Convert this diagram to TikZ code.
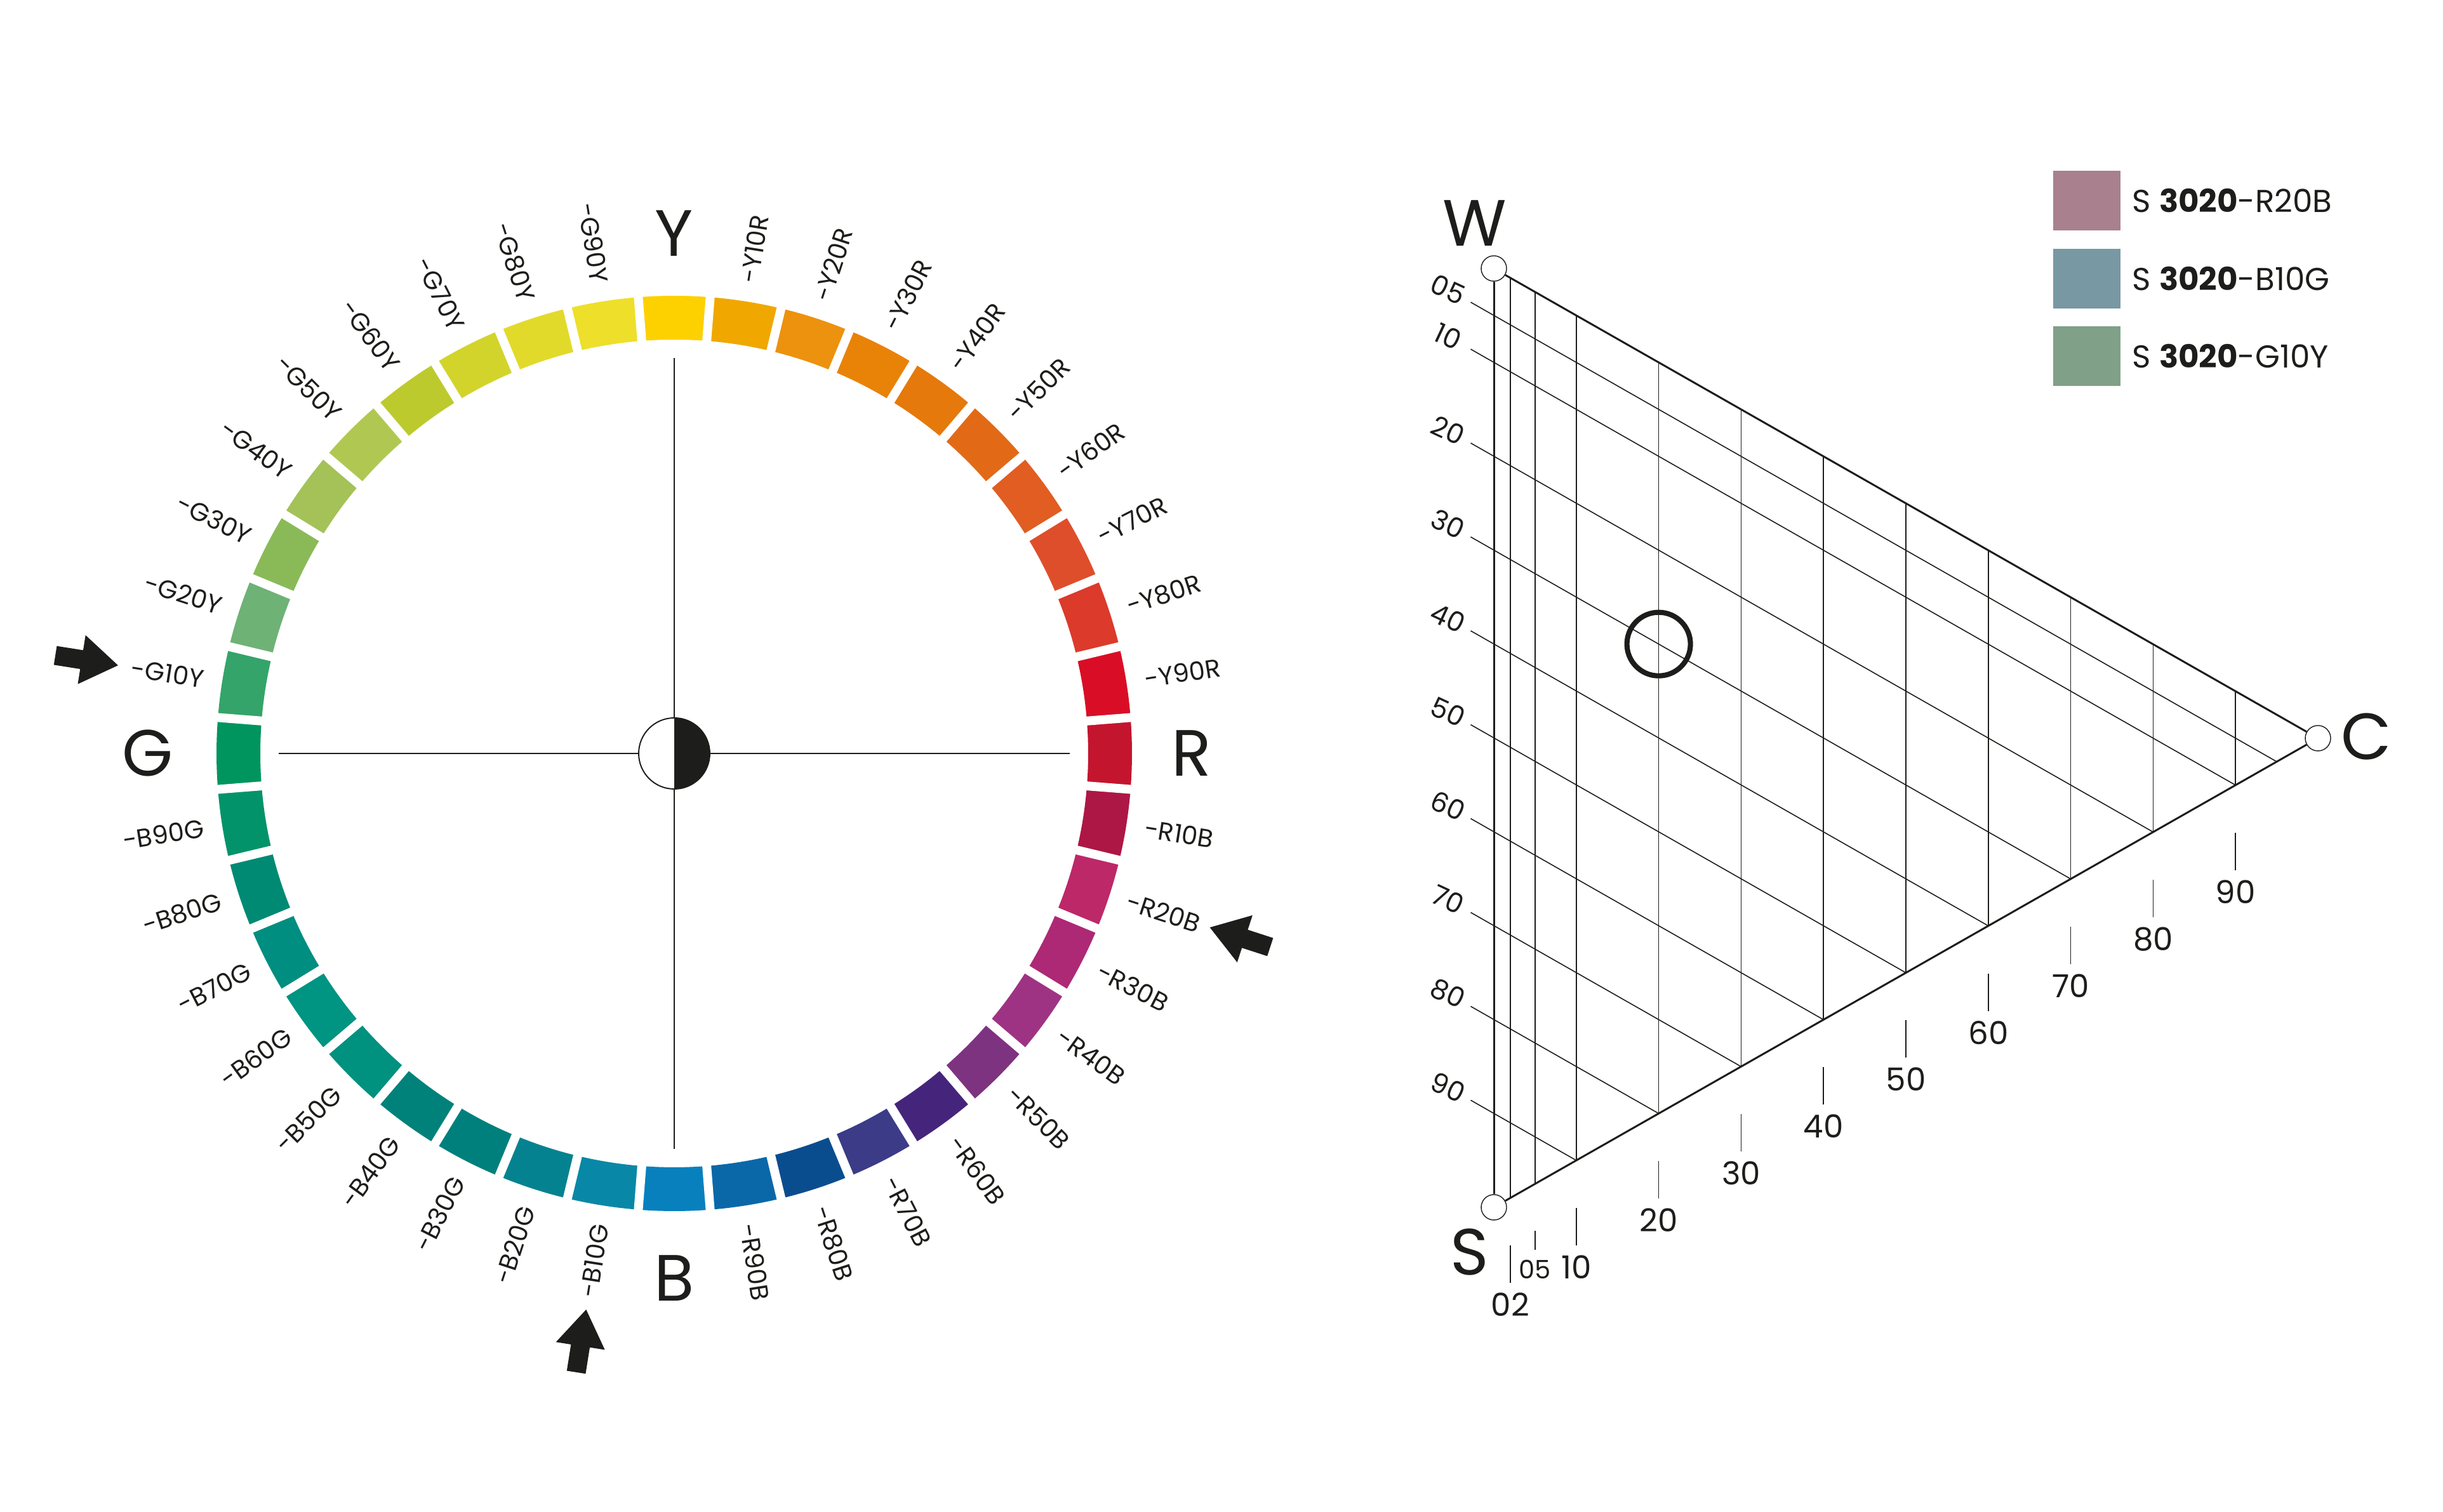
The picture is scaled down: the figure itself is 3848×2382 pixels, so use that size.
\documentclass[tikz,border=0pt]{standalone}
\usepackage{fontspec}
\setmainfont{Poppins}
\usetikzlibrary{calc, positioning}
\definecolor{ink}{HTML}{1D1D1B}
% hue circle colours
\definecolor{ncsY}{HTML}{FDD000}
\definecolor{ncsY10R}{HTML}{F0A800}
\definecolor{ncsY20R}{HTML}{EC920E}
\definecolor{ncsY30R}{HTML}{E88308}
\definecolor{ncsY40R}{HTML}{E5790B}
\definecolor{ncsY50R}{HTML}{E26A17}
\definecolor{ncsY60R}{HTML}{E15D22}
\definecolor{ncsY70R}{HTML}{DF4E2B}
\definecolor{ncsY80R}{HTML}{DC3A2B}
\definecolor{ncsY90R}{HTML}{D90E26}
\definecolor{ncsR}{HTML}{C4152F}
\definecolor{ncsR10B}{HTML}{AD1745}
\definecolor{ncsR20B}{HTML}{BD2868}
\definecolor{ncsR30B}{HTML}{AD2975}
\definecolor{ncsR40B}{HTML}{9E3384}
\definecolor{ncsR50B}{HTML}{7E3381}
\definecolor{ncsR60B}{HTML}{45257B}
\definecolor{ncsR70B}{HTML}{3B3B87}
\definecolor{ncsR80B}{HTML}{0A4D8F}
\definecolor{ncsR90B}{HTML}{0A68A9}
\definecolor{ncsB}{HTML}{0880BE}
\definecolor{ncsB10G}{HTML}{0888A6}
\definecolor{ncsB20G}{HTML}{058290}
\definecolor{ncsB30G}{HTML}{00807D}
\definecolor{ncsB40G}{HTML}{00827A}
\definecolor{ncsB50G}{HTML}{00917F}
\definecolor{ncsB60G}{HTML}{009482}
\definecolor{ncsB70G}{HTML}{008E80}
\definecolor{ncsB80G}{HTML}{008A73}
\definecolor{ncsB90G}{HTML}{03936A}
\definecolor{ncsG}{HTML}{00955E}
\definecolor{ncsG10Y}{HTML}{34A46A}
\definecolor{ncsG20Y}{HTML}{6EB276}
\definecolor{ncsG30Y}{HTML}{8ABA58}
\definecolor{ncsG40Y}{HTML}{A4C258}
\definecolor{ncsG50Y}{HTML}{B0C852}
\definecolor{ncsG60Y}{HTML}{BCCA2E}
\definecolor{ncsG70Y}{HTML}{D2D42C}
\definecolor{ncsG80Y}{HTML}{E2DA2A}
\definecolor{ncsG90Y}{HTML}{EEDF2A}
% sample colours
\definecolor{sampleR}{HTML}{A8808E}
\definecolor{sampleB}{HTML}{7898A4}
\definecolor{sampleG}{HTML}{80A088}

\begin{document}
\begin{tikzpicture}[x=0.01cm, y=0.01cm,
    gap/.style={draw=white, line width=0.14cm},
    axis/.style={draw=ink, line width=0.75pt},
    ringlabel/.style={inner sep=0pt, text=ink, font=\fontsize{11.4}{13}\selectfont},
    bigletter/.style={inner sep=0pt, text=ink, font=\fontsize{29.3}{32}\selectfont},
    pointer/.style={fill=ink},
    edge/.style={draw=ink, line width=0.85pt},
    grid/.style={draw=ink, line width=0.45pt},
    vertex/.style={circle, draw=ink, fill=white, line width=0.4pt, minimum size=0.4cm, inner sep=0pt},
    tick/.style={draw=ink, line width=0.45pt},
    blacklabel/.style={inner sep=0pt, text=ink, rotate=-25, font=\fontsize{12.2}{14}\selectfont},
    chromalabel/.style={inner sep=0pt, text=ink, anchor=north, font=\fontsize{14.2}{16}\selectfont},
    swatch/.style={minimum width=1.06cm, minimum height=0.94cm, inner sep=0pt},
    legendtext/.style={inner sep=0pt, text=ink, font=\fontsize{14.2}{16}\selectfont}
]
    \useasboundingbox[fill=white] (0,0) rectangle (3848,2382);

    % Hue circle
    \begin{scope}[shift={(1062,1195)}]
        \coordinate (O) at (0,0);
        % segments
        \foreach \hue/\nxt [count=\q from 0] in {Y/R, R/B, B/G, G/Y}
            \foreach \p in {0,...,9} {
                \pgfmathsetmacro\a{90-90*\q-9*\p}
                \ifnum\p=0 \edef\cn{ncs\hue}\else\edef\cn{ncs\hue\p0\nxt}\fi
                \fill[fill=\cn] (\a-4.5:721) arc[start angle=\a-4.5, delta angle=9, radius=721]
                    -- (\a+4.5:652) arc[start angle=\a+4.5, delta angle=-9, radius=652] -- cycle;
            }
        \foreach \k in {0,...,39}
            \draw[gap] (94.5-9*\k:640) -- (94.5-9*\k:735);

        % axes and centre
        \foreach \a in {0,90,180,270}
            \draw[axis] (\a:56) -- (\a:623);
        \draw[draw=ink, fill=white, line width=0.55pt] (O) circle[radius=56];
        \fill[ink] (90:56) arc[start angle=90, end angle=-90, radius=56] -- cycle;

        % Hue letters
        \node[bigletter] (hueY) at (90:819) {Y};
        \node[bigletter] (hueR) at (0:815) {R};
        \node[bigletter] (hueB) at (270:827) {B};
        \node[bigletter] (hueG) at (180:829) {G};

        % Hue labels
        \foreach \hue/\nxt [count=\q from 0] in {Y/R, R/B, B/G, G/Y}
            \foreach \p in {1,...,9} {
                \pgfmathsetmacro\a{90-90*\q-9*\p}
                \ifnum\q<2
                    \node[ringlabel, rotate=\a, anchor=west] (l\hue\p) at (\a:750) {-\hue\p0\nxt};
                \else
                    \node[ringlabel, rotate=\a+180, anchor=east] (l\hue\p) at (\a:750) {-\hue\p0\nxt};
                \fi
            }

        % Pointers
        \foreach \a in {-18,-99,-189}
            \fill[pointer, rotate=\a] (987,15) -- (945,15) -- (945,39) -- (887,0)
                -- (945,-39) -- (945,-15) -- (987,-15) -- cycle;
    \end{scope}

    % NCS triangle
    \coordinate (W) at (2353,1959);
    \coordinate (S) at (2353,480);
    \coordinate (C) at (3651,1219);

    % chromaticness lines
    \foreach \c in {0.02,0.05,0.1,0.2,0.3,0.4,0.5,0.6,0.7,0.8,0.9}
        \draw[grid] ($(W)!\c!(C)$) -- ($(S)!\c!(C)$);

    % blackness lines
    \foreach \s/\txt in {0.05/05,0.1/10,0.2/20,0.3/30,0.4/40,0.5/50,0.6/60,0.7/70,0.8/80,0.9/90} {
        \coordinate (bl) at ($(W)!\s!(S)$);
        \coordinate (br) at ($(C)!\s!(S)$);
        \draw[grid] ($(bl)!-0.42cm!(br)$) -- (br);
        \node[blacklabel] (s\txt) at ($(bl)!-0.83cm!(br)$) {\txt};
    }

    % Vertices
    \node[vertex] (Wv) at (W) {};
    \node[vertex] (Sv) at (S) {};
    \node[vertex] (Cv) at (C) {};
    \draw[edge] (Wv) -- (Cv);
    \draw[edge] (Sv) -- (Cv);
    \draw[edge] (Wv) -- (Sv);

    \node[bigletter] (labW) at (2323,2030) {W};
    \node[bigletter] (labS) at (2315,410) {S};
    \node[bigletter] (labC) at (3727,1222) {C};

    % chromaticness scale
    \foreach \c/\txt in {0.02/02,0.1/10,0.2/20,0.3/30,0.4/40,0.5/50,0.6/60,0.7/70,0.8/80,0.9/90}
        \draw[tick] ($(S)!\c!(C)+(0,-75)$) -- ++(0,-59)
            node[chromalabel, below=0.15cm] (c\txt) {\txt};
    \draw[tick] ($(S)!0.05!(C)+(0,-74)$) -- ++(0,-30)
        node[chromalabel, below=0.15cm, font=\fontsize{11.4}{13}\selectfont] (c05) {05};

    % Sample
    \node[circle, draw=ink, line width=2.3pt, minimum size=1cm, inner sep=0pt] (sample)
        at ($0.5*(W)+0.3*(S)+0.2*(C)$) {};

    % Legend
    \node[swatch, fill=sampleR] (swR) at (3287,2066) {};
    \node[swatch, fill=sampleB] (swB) at (3287,1943) {};
    \node[swatch, fill=sampleG] (swG) at (3287,1821) {};
    \node[legendtext, right=0.17cm of swR] (txR) {S \textbf{3020}-R20B};
    \node[legendtext, right=0.17cm of swB] (txB) {S \textbf{3020}-B10G};
    \node[legendtext, right=0.17cm of swG] (txG) {S \textbf{3020}-G10Y};
\end{tikzpicture}
\end{document}
